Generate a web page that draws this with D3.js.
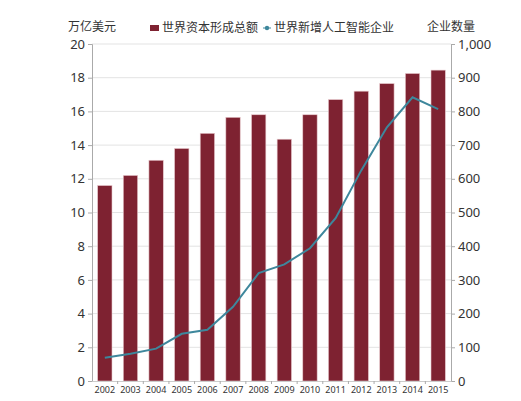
<!DOCTYPE html>
<html>
<head>
<meta charset="utf-8">
<script src="https://cdn.jsdelivr.net/npm/d3@7"></script>
<style>
  body { margin: 0; background: #fff; }
  svg text { font-family: "Noto Sans", "Noto Sans CJK SC", sans-serif; fill: #333; }
</style>
</head>
<body>
<div id="container"></div>
<script>
// chart data
const years = ["2002", "2003", "2004", "2005", "2006", "2007", "2008", "2009", "2010", "2011", "2012", "2013", "2014", "2015"];
const capital = [11.6, 12.2, 13.1, 13.8, 14.7, 15.65, 15.8, 14.35, 15.8, 16.7, 17.2, 17.65, 18.25, 18.45];
const aiFirms = [69, 81, 96, 140, 152, 220, 320, 346, 394, 483, 625, 753, 842, 807];
const leftTicks = [0, 2, 4, 6, 8, 10, 12, 14, 16, 18, 20];
const rightTicks = [0, 100, 200, 300, 400, 500, 600, 700, 800, 900, 1000];

const w = 521;
const h = 401;
const margin = { top: 44, right: 70, bottom: 20, left: 92 };

const svg = d3.select("#container").
  append("svg").
  attr("width", w).
  attr("height", h);

const xScale = d3.scaleBand().
  domain(years).
  range([margin.left, w - margin.right]).
  paddingInner(0.44).
  paddingOuter(0.22);

const yLeft = d3.scaleLinear().
  domain([0, 20]).
  range([h - margin.bottom, margin.top]);

const yRight = d3.scaleLinear().
  domain([0, 1000]).
  range([h - margin.bottom, margin.top]);

// gridlines
svg.append("g").
  selectAll("line").
  data(leftTicks.slice(1)).
  enter().
  append("line").
  attr("x1", margin.left).
  attr("x2", w - margin.right).
  attr("y1", d => yLeft(d)).
  attr("y2", d => yLeft(d)).
  attr("stroke", "#e3e3e3").
  attr("stroke-width", 1);

// bars
svg.append("g").
  selectAll("rect").
  data(capital).
  enter().
  append("rect").
  attr("x", (d, i) => xScale(years[i])).
  attr("y", d => yLeft(d)).
  attr("width", xScale.bandwidth()).
  attr("height", d => yLeft(0) - yLeft(d)).
  attr("fill", "#7e2231").
  attr("stroke", "#e8c9cd").
  attr("stroke-width", 0.6);

// line
const line = d3.line().
  x((d, i) => xScale(years[i]) + xScale.bandwidth() / 2).
  y(d => yRight(d));

svg.append("path").
  datum(aiFirms).
  attr("d", line).
  attr("fill", "none").
  attr("stroke", "#3e879c").
  attr("stroke-width", 2);

// axes
const leftAxis = d3.axisLeft(yLeft).tickValues(leftTicks).tickSize(4).tickPadding(3);
const rightAxis = d3.axisRight(yRight).tickValues(rightTicks).tickSize(4).tickPadding(3).tickFormat(d3.format(","));
const bottomAxis = d3.axisBottom(xScale).tickSize(0).tickPadding(6);

const gl = svg.append("g").
  attr("transform", `translate(${margin.left}, 0)`).
  call(leftAxis);
gl.selectAll("text").style("font-size", "13px");

const gr = svg.append("g").
  attr("transform", `translate(${w - margin.right}, 0)`).
  call(rightAxis);
gr.selectAll("text").style("font-size", "13px");

const gb = svg.append("g").
  attr("transform", `translate(0, ${h - margin.bottom})`).
  call(bottomAxis);
gb.selectAll("text").style("font-size", "9px");

// small ticks between categories
gb.selectAll(".sep").
  data(years.slice(1)).
  enter().
  append("line").
  attr("class", "sep").
  attr("x1", d => xScale(d) - xScale.step() * xScale.paddingInner() / 2).
  attr("x2", d => xScale(d) - xScale.step() * xScale.paddingInner() / 2).
  attr("y1", 0).
  attr("y2", 3).
  attr("stroke", "#aaa");

svg.selectAll(".domain").attr("stroke", "#aaa");
svg.selectAll(".tick line").attr("stroke", "#aaa");
gb.select(".domain").attr("stroke", "#ccc");

// axis titles
svg.append("text").
  attr("x", 68).
  attr("y", 31).
  style("font-size", "12px").
  text("万亿美元");

svg.append("text").
  attr("x", 427).
  attr("y", 31).
  style("font-size", "12px").
  text("企业数量");

// legend
svg.append("rect").
  attr("x", 150).
  attr("y", 25).
  attr("width", 9).
  attr("height", 6).
  attr("fill", "#7e2231");

svg.append("text").
  attr("x", 162).
  attr("y", 32).
  style("font-size", "12px").
  text("世界资本形成总额");

svg.append("line").
  attr("x1", 263).
  attr("x2", 271).
  attr("y1", 28).
  attr("y2", 28).
  attr("stroke", "#3e879c").
  attr("stroke-width", 1);

svg.append("circle").
  attr("cx", 267).
  attr("cy", 28).
  attr("r", 2.2).
  attr("fill", "#3e879c");

svg.append("text").
  attr("x", 274).
  attr("y", 32).
  style("font-size", "12px").
  text("世界新增人工智能企业");
</script>
</body>
</html>
